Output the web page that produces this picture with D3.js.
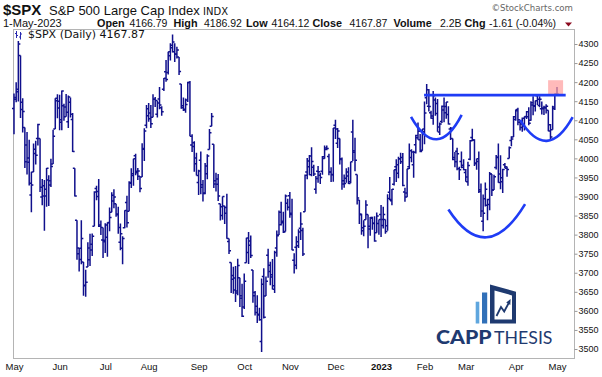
<!DOCTYPE html>
<meta charset="utf-8">
<style>
    body { margin: 0; background: #fff; }
    text { font-family: "Liberation Sans", Arial, sans-serif; fill: #111; }
    .bar { fill: none; stroke: #10108c; stroke-width: 1.5; }
    .frame { fill: none; stroke: #b4b4b4; stroke-width: 1; }
    .note { fill: none; stroke: #1f3cf5; stroke-width: 2.6; }
</style>
<svg width="602" height="377"></svg>
<script src="https://cdn.jsdelivr.net/npm/d3@7/dist/d3.min.js"></script>
<script>

    // daily OHLC, 2-May-2022 .. 1-May-2023, one line per month
    var opens = [].concat(
        [4131,4160,4181,4270,4128,4081,4035,3990,3904,3964,4013,4052,4052,3899,3928,3919,3943,3930,3985,4077,4151],
        [4150,4095,4138,4135,4096,4147,4102,3974,3838,3765,3764,3728,3666,3715,3734,3775,3822,3921,3913,3825,3786],
        [3781,3793,3832,3859,3888,3881,3852,3780,3764,3818,3884,3861,3935,3955,4007,3966,3953,3951,4026,4087],
        [4112,4104,4108,4155,4116,4156,4133,4181,4227,4225,4269,4290,4280,4273,4266,4195,4133,4127,4153,4199,4035,4041,4001],
        [3937,3995,3931,3909,3960,4023,4084,4037,3941,3932,3881,3850,3875,3871,3782,3727,3683,3686,3652,3687,3633],
        [3610,3726,3753,3772,3707,3648,3596,3591,3520,3690,3639,3746,3703,3689,3657,3765,3799,3826,3835,3808,3882],
        [3902,3853,3733,3767,3781,3817,3811,3860,3964,3978,4006,3977,3919,3966,3956,3966,4000,4023,4005,3964,3957],
        [4087,4040,4052,3997,3933,3948,3954,3939,4069,4016,3958,3891,3854,3810,3839,3853,3815,3843,3830,3805,3829],
        [3853,3840,3840,3823,3911,3889,3932,3978,3961,3999,4002,3912,3909,3978,4002,3983,4036,4054,4049,4021],
        [4070,4159,4137,4120,4105,4153,4144,4069,4097,4127,4120,4115,4077,4052,4002,4019,3973,3992,3977],
        [3963,3939,3998,4055,4048,3988,3999,3913,3835,3894,3877,3879,3959,3917,3976,4002,3959,3939,3983,3974,4000,4047,4056],
        [4102,4128,4095,4081,4085,4110,4122,4100,4140,4137,4164,4139,4130,4132,4132,4126,4088,4075,4130],
        [4167]);

    var highs = [].concat(
        [4170,4200,4308,4270,4158,4081,4069,4049,3965,4039,4046,4091,4052,3946,3943,3975,3956,3999,4075,4158,4168],
        [4167,4178,4143,4169,4165,4160,4119,3974,3838,3765,3838,3728,3708,3780,3802,3803,3914,3928,3946,3837,3819],
        [3830,3832,3871,3911,3919,3881,3873,3829,3796,3864,3902,3940,3974,3999,4012,3975,3953,4040,4079,4140],
        [4145,4140,4168,4161,4152,4187,4137,4211,4258,4280,4302,4325,4302,4293,4266,4195,4160,4157,4201,4203,4063,4045,4015],
        [3970,4018,3943,3988,4011,4077,4119,4037,3962,3959,3881,3900,3876,3907,3790,3727,3716,3718,3737,3687,3671],
        [3698,3792,3807,3798,3707,3652,3641,3608,3685,3712,3690,3763,3729,3736,3758,3811,3863,3886,3860,3905,3894],
        [3912,3894,3751,3796,3814,3859,3818,3958,4001,4009,4029,3983,3954,3980,3962,4006,4034,4034,4012,3977,4080],
        [4101,4080,4052,4002,3958,3974,3977,3991,4101,4054,3958,3891,3855,3838,3890,3853,3846,3847,3848,3858,3840],
        [3878,3873,3840,3906,3951,3920,3970,3998,4004,4015,4014,3923,3973,4039,4024,4020,4062,4094,4064,4077],
        [4149,4195,4182,4125,4177,4160,4156,4094,4139,4160,4148,4137,4082,4052,4017,4028,3978,4018,3998],
        [3972,3991,4048,4078,4050,4000,4018,3934,3905,3937,3894,3964,3959,3957,4009,4039,4008,3973,3988,3979,4031,4058,4111],
        [4128,4133,4100,4107,4110,4124,4134,4150,4163,4152,4169,4163,4149,4138,4142,4126,4090,4138,4170],
        [4187]);

    var lows = [].concat(
        [4063,4147,4149,4106,4068,3975,3958,3929,3859,3964,3984,4034,3912,3877,3810,3873,3875,3925,3985,4077,4105],
        [4074,4074,4099,4109,4080,4107,4017,3900,3734,3703,3722,3640,3637,3715,3718,3744,3822,3890,3820,3799,3739],
        [3752,3742,3809,3859,3869,3847,3802,3759,3722,3817,3819,3861,3922,3928,3956,3943,3911,3951,3993,4079],
        [4096,4080,4108,4135,4107,4129,4112,4177,4201,4220,4257,4278,4253,4262,4219,4130,4124,4120,4148,4058,4017,3965,3955],
        [3904,3906,3887,3906,3945,4023,4084,3922,3913,3888,3837,3839,3828,3789,3749,3647,3645,3623,3641,3610,3584],
        [3605,3726,3723,3739,3621,3588,3568,3574,3492,3580,3639,3687,3667,3656,3647,3742,3799,3824,3804,3808,3863],
        [3844,3759,3698,3709,3765,3786,3744,3860,3945,3956,3953,3954,3907,3936,3933,3957,3999,4021,3956,3938,3939],
        [4051,4027,3984,3918,3923,3936,3933,3935,3993,3966,3879,3828,3800,3796,3839,3764,3797,3813,3781,3805,3800],
        [3794,3816,3802,3810,3890,3877,3929,3938,3948,3985,3927,3886,3898,3972,3990,3949,4013,4049,4016,4020],
        [4037,4142,4123,4104,4088,4112,4070,4061,4093,4095,4104,4089,4048,3995,3977,3969,3943,3974,3969],
        [3939,3928,3995,4045,3980,3970,3909,3846,3809,3874,3838,3864,3901,3917,3971,3936,3919,3909,3974,3952,4000,4032,4056],
        [4099,4087,4073,4070,4073,4103,4087,4099,4113,4123,4140,4134,4115,4114,4118,4071,4049,4075,4127],
        [4164]);

    var closes = [].concat(
        [4155,4175,4300,4147,4123,3991,4001,3935,3930,4024,4008,4089,3924,3901,3901,3974,3941,3979,4058,4158,4132],
        [4101,4177,4109,4121,4161,4116,4018,3901,3750,3735,3790,3667,3675,3765,3760,3796,3912,3900,3822,3819,3785],
        [3825,3831,3845,3903,3899,3854,3819,3802,3790,3863,3831,3937,3960,3999,3962,3967,3921,4024,4072,4130],
        [4119,4091,4155,4152,4145,4140,4122,4210,4207,4280,4297,4305,4274,4284,4228,4138,4129,4141,4199,4058,4031,3986,3955],
        [3967,3924,3908,3980,4006,4067,4110,3933,3946,3901,3873,3900,3856,3790,3758,3693,3655,3647,3719,3640,3586],
        [3678,3791,3783,3745,3640,3612,3589,3577,3670,3583,3678,3720,3695,3666,3753,3797,3859,3831,3807,3901,3872],
        [3856,3760,3720,3771,3807,3828,3749,3956,3993,3957,3992,3959,3947,3965,3950,4004,4027,4026,3964,3958,4080],
        [4077,4072,3999,3941,3934,3964,3934,3991,4020,3995,3896,3852,3818,3822,3878,3822,3845,3829,3783,3849,3840],
        [3824,3853,3808,3895,3892,3919,3970,3983,3999,3991,3929,3899,3973,4020,4017,4016,4060,4071,4018,4077],
        [4119,4180,4136,4111,4164,4118,4082,4090,4137,4136,4148,4090,4079,3997,3991,4012,3970,3982,3970],
        [3951,3981,4046,4048,3986,3992,3918,3862,3856,3919,3892,3960,3917,3952,4003,3937,3949,3971,3978,3971,4028,4051,4109],
        [4125,4101,4090,4105,4109,4109,4092,4146,4138,4151,4155,4155,4130,4134,4137,4072,4056,4135,4169],
        [4168]);

    // month labels and the bar index of each month's first session
    var monthLabels = ["May", "Jun", "Jul", "Aug", "Sep", "Oct", "Nov", "Dec", "2023", "Feb", "Mar", "Apr", "May"];
    var monthStarts = [0, 21, 42, 62, 85, 106, 127, 148, 169, 189, 208, 231, 250];
    var priceTicks = d3.range(3500, 4301, 50);

    // hand drawn annotations, in [bar index, price]
    var neckline = [[188.8, 4166], [254, 4166]];
    var breakoutBox = [[245.9, 4205], [252.8, 4166]];
    var bowls = [
        [[182.8, 4109], [194.6, 4050], [206.1, 4114]],
        [[200.0, 3866], [217.6, 3793], [235.3, 3880]],
        [[233.0, 4101], [245.3, 4046], [257.2, 4108]]
    ];

    var svg = d3.select("svg");

    var x = d3.scaleLinear().domain([0, 250]).range([14, 557]);
    var y = d3.scaleLinear().domain([3500, 4300]).range([349, 44]);

    // header
    var h1 = svg.append("text").attr("y", 15);
    h1.append("tspan").attr("x", 3).style("font-weight", "bold").style("font-size", "15px").text("$SPX");
    h1.append("tspan").attr("x", 49).style("font-size", "13px").text("S&P 500 Large Cap Index");
    h1.append("tspan").attr("x", 203).style("font-size", "10px").style("font-family", "DejaVu Sans").text("INDX");

    svg.append("text").attr("x", 3).attr("y", 26.5).style("font-size", "11px").text("1-May-2023");

    var quote = [
        ["Open", 97, 1], ["4166.79", 129.5, 0], ["High", 173.5, 1], ["4186.92", 204, 0],
        ["Low", 246, 1], ["4164.12", 271.5, 0], ["Close", 312.5, 1], ["4167.87", 349.5, 0],
        ["Volume", 393.5, 1], ["2.2B", 440, 0], ["Chg", 464.5, 1], ["-1.61 (-0.04%)", 489, 0]
    ];
    var h2 = svg.append("text").attr("y", 26.5);
    quote.forEach(function (q) {
        h2.append("tspan").attr("x", q[1])
            .style("font-weight", q[2] ? "bold" : "normal")
            .style("font-size", q[2] ? "10.8px" : "10.5px")
            .text(q[0]);
    });
    svg.append("path").attr("d", "M565,22.5 L572,22.5 L568.5,26.5 Z").attr("fill", "#8b0a1e");

    svg.append("text").attr("x", 573).attr("y", 11).attr("text-anchor", "end")
        .style("font-family", "DejaVu Sans").style("font-size", "8.6px").style("fill", "#666")
        .text("\u00a9StockCharts.com");

    // frame
    svg.append("rect").attr("class", "frame")
        .attr("x", 13.5).attr("y", 29.5).attr("width", 561).attr("height", 329);

    // logo
    var logo = svg.append("g");
    logo.append("rect").attr("x", 475.7).attr("y", 301.7).attr("width", 3.6).attr("height", 21.8).attr("fill", "#5fa6de");
    logo.append("rect").attr("x", 482).attr("y", 292.5).attr("width", 5.2).attr("height", 31).attr("fill", "#3170b8");
    logo.append("path").attr("fill-rule", "evenodd").attr("fill", "#1f3a70")
        .attr("d", "M490,284.5 L516,291.7 L516,323.5 L490,323.5 Z M494.5,290.6 L512,295.4 L512,319.6 L494.5,319.6 Z");
    logo.append("path").attr("fill", "none").attr("stroke", "#1f3a70").attr("stroke-width", 1.8)
        .attr("d", "M496.5,316 L501,307 L504.2,311.5 L509,302.5");
    logo.append("path").attr("fill", "#1f3a70").attr("d", "M510.6,299 L510.3,305 L506.2,302.4 Z");
    logo.append("text").attr("x", 436).attr("y", 344)
        .attr("textLength", 55.5).attr("lengthAdjust", "spacingAndGlyphs")
        .style("font-family", "Lato").style("font-size", "18px").style("font-weight", "900").style("fill", "#1f3a70")
        .text("CAPP");
    logo.append("text").attr("x", 494).attr("y", 344)
        .attr("textLength", 58.5).attr("lengthAdjust", "spacingAndGlyphs")
        .style("font-family", "Lato").style("font-size", "18px").style("fill", "#1f3a70")
        .text("THESIS");

    // y axis
    var yAxis = svg.append("g")
        .attr("transform", "translate(574.5,0)")
        .call(d3.axisRight(y).tickValues(priceTicks).tickSize(3).tickPadding(1).tickFormat(d3.format("d")));
    yAxis.select(".domain").remove();
    yAxis.selectAll("line").attr("stroke", "#999");
    yAxis.selectAll("text").style("font-size", "9px").style("font-family", "Liberation Sans").attr("fill", "#222");

    // x axis
    var xAxis = svg.append("g")
        .attr("transform", "translate(0,358)")
        .call(d3.axisBottom(x).tickValues(monthStarts).tickSize(0)
            .tickFormat(function (d, i) { return monthLabels[i]; }));
    xAxis.select(".domain").remove();
    xAxis.selectAll("text").attr("y", 11.5).attr("dy", 0)
        .style("font-size", "9.5px").style("font-family", "Liberation Sans").attr("fill", "#222")
        .style("font-weight", function (d, i) { return monthLabels[i] === "2023" ? "bold" : "normal"; });

    // legend
    var lg = svg.append("g").attr("stroke", "#2a2ab0").attr("stroke-width", 1).attr("fill", "none");
    lg.append("path").attr("d", "M16.5,31 V38 M15,33.5 H16.5 M16.5,35.5 H18 M20.5,32 V39.5 M19,37 H20.5 M20.5,34 H22");
    svg.append("text").attr("x", 28).attr("y", 37.5)
        .style("font-family", "DejaVu Sans").style("font-size", "11px").attr("fill", "#222")
        .text("$SPX (Daily) 4167.87");

    // OHLC bars
    svg.append("g").selectAll("path")
        .data(closes)
        .join("path")
        .attr("class", "bar")
        .attr("d", function (c, i) {
            var xi = x(i);
            return "M" + xi + "," + y(highs[i]) + "V" + y(lows[i]) +
                "M" + (xi - 2) + "," + y(opens[i]) + "H" + xi +
                "M" + xi + "," + y(c) + "H" + (xi + 2);
        });

    // annotations
    svg.append("rect")
        .attr("x", x(breakoutBox[0][0])).attr("y", y(breakoutBox[0][1]))
        .attr("width", x(breakoutBox[1][0]) - x(breakoutBox[0][0]))
        .attr("height", y(breakoutBox[1][1]) - y(breakoutBox[0][1]))
        .attr("fill", "#ff9c9c").attr("fill-opacity", 0.7);

    svg.append("path").attr("class", "note")
        .attr("d", d3.line().x(function (d) { return x(d[0]); }).y(function (d) { return y(d[1]); })(neckline));

    svg.selectAll(".bowl")
        .data(bowls)
        .join("path")
        .attr("class", "note bowl")
        .attr("d", function (b) {
            var p0 = [x(b[0][0]), y(b[0][1])], pm = [x(b[1][0]), y(b[1][1])], p2 = [x(b[2][0]), y(b[2][1])];
            var cx = 2 * pm[0] - (p0[0] + p2[0]) / 2, cy = 2 * pm[1] - (p0[1] + p2[1]) / 2;
            var p = d3.path();
            p.moveTo(p0[0], p0[1]);
            p.quadraticCurveTo(cx, cy, p2[0], p2[1]);
            return p.toString();
        });

</script>
